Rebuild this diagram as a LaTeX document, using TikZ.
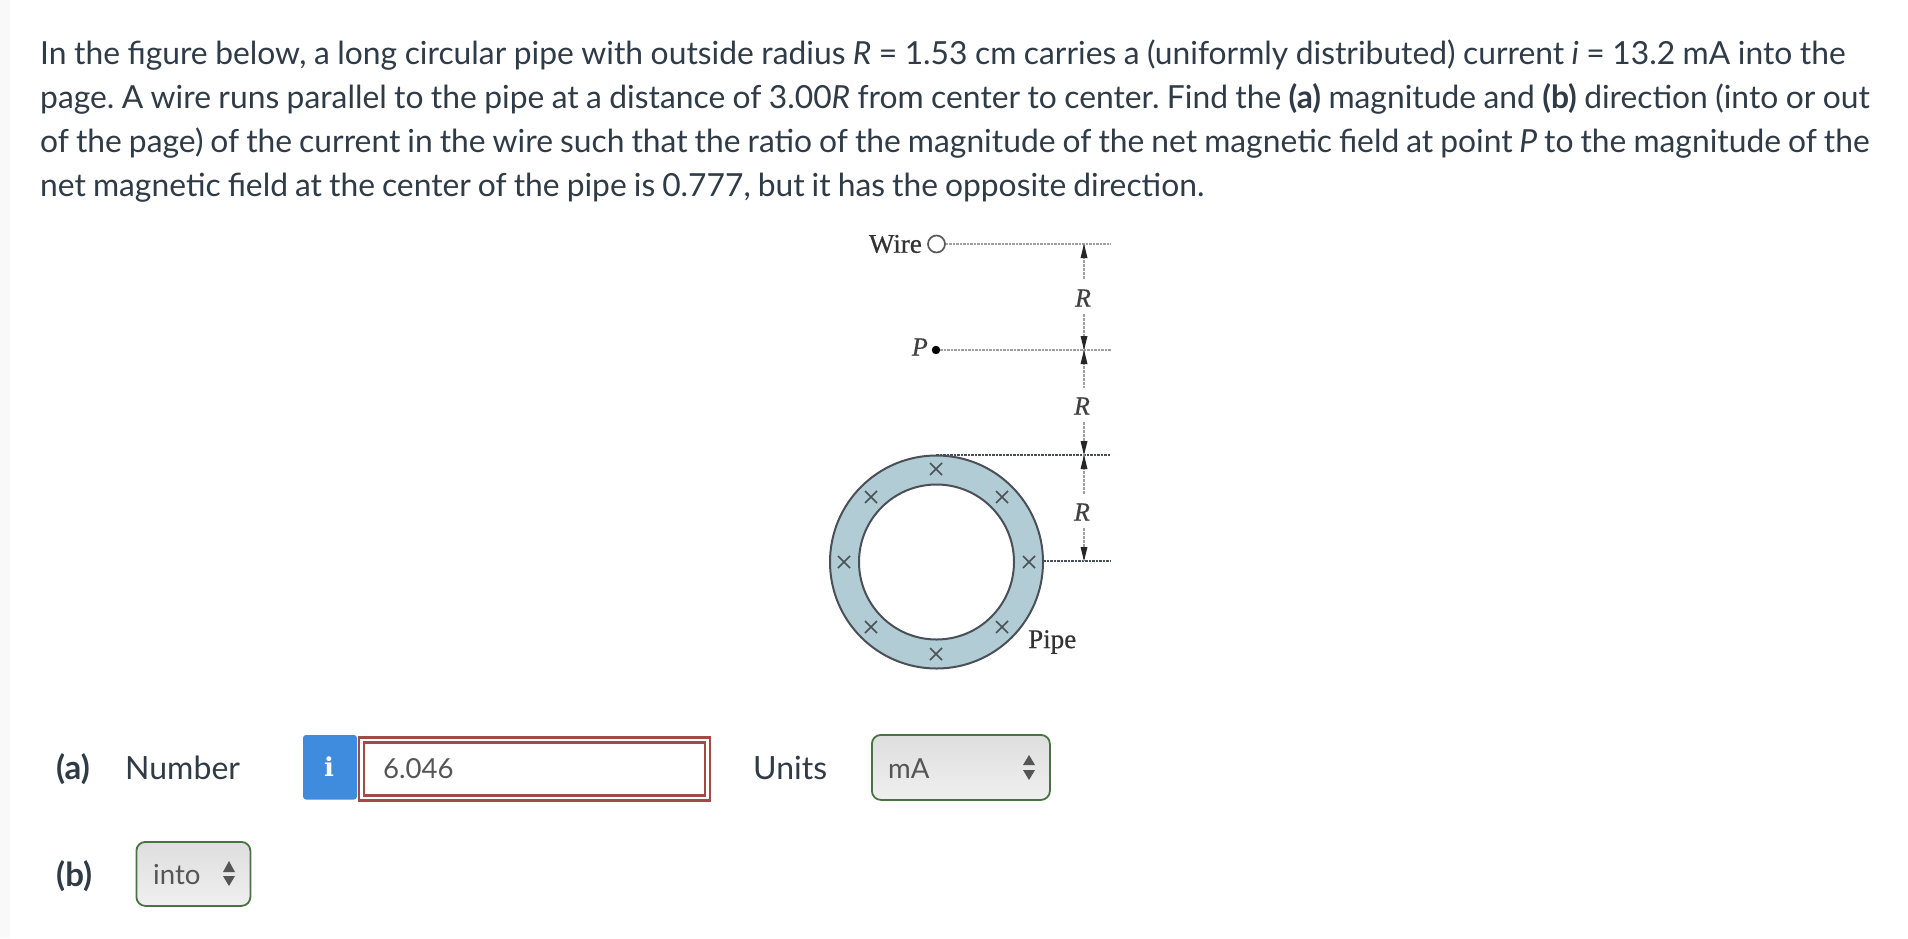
\documentclass[tikz,border=0pt]{standalone}
\usepackage{fontspec}
\setmainfont{Lato}
\newfontfamily\figfont[RawFeature={embolden=0.5}]{Liberation Serif}
\newfontfamily\figitfont[RawFeature={embolden=0.4}]{Liberation Serif Italic}
\newfontfamily\iconfont{DejaVu Serif Bold}
\definecolor{pagetext}{HTML}{2F3B47}
\definecolor{fieldtext}{HTML}{555555}
\definecolor{pipefill}{HTML}{B2CCD6}
\definecolor{pipeline}{HTML}{4A5056}
\definecolor{dimline}{HTML}{A0A0A0}
\definecolor{infoblue}{HTML}{3F8BDD}
\definecolor{wrongred}{HTML}{A04B48}
\definecolor{rightgreen}{HTML}{4A7343}
\tikzset{
  para/.style={anchor=base west,inner sep=0pt,text=pagetext,font=\fontsize{31.8}{36}\selectfont\frenchspacing},
  formlabel/.style={anchor=base west,inner sep=0pt,text=pagetext,font=\fontsize{32}{38}\selectfont},
  fieldlabel/.style={anchor=base west,inner sep=0pt,text=fieldtext,font=\fontsize{27.6}{32}\selectfont},
  figlabel/.style={inner sep=0pt,text=black!80,font=\figfont\fontsize{27}{32}\selectfont},
  dimlabel/.style={inner sep=0pt,text=black!75,font=\figitfont\fontsize{26}{32}\selectfont},
  dimleader/.style={dimline,line width=1.8pt,dash pattern=on 2.5pt off 1pt},
  dimarrow/.style={dimline,line width=1.3pt,dash pattern=on 2.5pt off 1.5pt},
  selectbox/.style={draw=rightgreen,line width=1.8pt,rounded corners=9pt,top color=black!13,bottom color=black!6},
  updown/.style={fill=fieldtext,draw=none},
  crossmark/.style={pipeline,line width=1.7pt},
}
\newcommand{\dimtip}[2]{\fill[black!85] (#1,#2) -- ++(-3.5,14) -- ++(7,0) -- cycle;}
\newcommand{\dimtop}[2]{\fill[black!85] (#1,#2) -- ++(-3.5,-14) -- ++(7,0) -- cycle;}
\begin{document}
\begin{tikzpicture}[x=1pt,y=-1pt]
\useasboundingbox (0,0) rectangle (1908,938);
\fill[white] (0,0) rectangle (1908,938);
\fill[black!2.5] (0,0) rectangle (10,938);
% question text
\node[para] (line1) at (40,64) {\spaceskip=7.5pt In the figure below, a long circular pipe with outside radius \textit{R} = 1.53 cm carries a (uniformly distributed) current \textit{i} = 13.2 mA into the};
\node[para] (line2) at (40,108) {\spaceskip=7.4pt page. A wire runs parallel to the pipe at a distance of 3.00\textit{R} from center to center. Find the \textbf{(a)} magnitude and \textbf{(b)} direction (into or out};
\node[para] (line3) at (40,152) {\spaceskip=7pt of the page) of the current in the wire such that the ratio of the magnitude of the net magnetic field at point \textit{P} to the magnitude of the};
\node[para] (line4) at (40,196) {\spaceskip=7pt net magnetic field at the center of the pipe is 0.777, but it has the opposite direction.};
% pipe
\fill[pipefill,draw=pipeline,line width=2pt,even odd rule] (936.5,562) circle (106.5) (936.5,562) circle (77.5);
\foreach \xc/\yc in {936/469,871/497,1002/497,844/562,1029/562,871/627,1002/627,936/654}
  \draw[crossmark] (\xc-6,\yc-6) -- (\xc+6,\yc+6) (\xc-6,\yc+6) -- (\xc+6,\yc-6);
% wire and point
\node[circle,draw=black!65,line width=1.7pt,fill=white,minimum size=17pt,inner sep=0pt] (wire) at (936.5,244) {};
\node[circle,fill=black,minimum size=8.5pt,inner sep=0pt] (pointP) at (936,350) {};
\node[figlabel,anchor=east] (wirelabel) at (922,244) {Wire};
\node[dimlabel,anchor=east] (plabel) at (928,347) {P};
\node[figlabel,anchor=west] (pipelabel) at (1028,642) {Pipe};
% leaders
\coordinate (wireend) at (1111,244);
\coordinate (pend) at (1111,350);
\coordinate (topstart) at (936,455);
\coordinate (topend) at (1111,455);
\coordinate (sidestart) at (1043,561);
\coordinate (sideend) at (1111,561);
\draw[dimleader] (wire) -- (wireend);
\draw[dimleader] (pointP) -- (pend);
\draw[dimleader,draw=pipeline] (topstart) -- (topend);
\draw[dimleader,draw=pipeline] (sidestart) -- (sideend);
% dimensions
\node[dimlabel] (r1) at (1083,298) {R};
\node[dimlabel] (r2) at (1082,406) {R};
\node[dimlabel] (r3) at (1082,512) {R};
\coordinate (d1a) at (1084,244);
\coordinate (d1b) at (1084,350);
\coordinate (d2b) at (1084,455);
\coordinate (d3b) at (1084,561);
\foreach \la/\lb/\rc in {d1a/d1b/298,d1b/d2b/406,d2b/d3b/512}{
  \draw[dimarrow] (\la) -- (1084,\rc-18);
  \draw[dimarrow] (1084,\rc+16) -- (\lb);
}
\dimtip{1084}{244}
\dimtop{1084}{350}
\dimtip{1084}{350}
\dimtop{1084}{455}
\dimtip{1084}{455}
\dimtop{1084}{561}
% form
\node[formlabel,font=\bfseries\fontsize{33}{38}\selectfont] (alabel) at (56,779) {(a)};
\node[formlabel] (number) at (125,779) {Number};
\fill[infoblue,rounded corners=3pt] (303,735) rectangle (357,799.5);
\node[text=white,inner sep=0pt,font=\iconfont\fontsize{26}{30}\selectfont] (info) at (329,767) {i};
\node[draw=wrongred,line width=2.6pt,fill=white,minimum width=351pt,minimum height=63pt,inner sep=0pt,anchor=north west] (outerbox) at (357.5,736) {};
\node[draw=wrongred,line width=2.6pt,minimum width=341pt,minimum height=53pt,inner sep=0pt,anchor=north west] (innerbox) at (362.5,741) {};
\node[fieldlabel] (value) at (383,778) {6.046};
\node[formlabel] (units) at (753,779) {Units};
\node[selectbox,minimum width=178pt,minimum height=65pt,inner sep=0pt,anchor=north west] (unitbox) at (871,734) {};
\node[fieldlabel] (unitval) at (888,778) {mA};
\fill[updown] (1029,755) -- (1035,765) -- (1023,765) -- cycle;
\fill[updown] (1029,780) -- (1035,770) -- (1023,770) -- cycle;
\node[formlabel,font=\bfseries\fontsize{33}{38}\selectfont] (blabel) at (56,886) {(b)};
\node[selectbox,minimum width=114pt,minimum height=64pt,inner sep=0pt,anchor=north west] (dirbox) at (135.5,841) {};
\node[fieldlabel] (dirval) at (153,884) {into};
\fill[updown] (229,861) -- (235,872) -- (223,872) -- cycle;
\fill[updown] (229,886) -- (235,876) -- (223,876) -- cycle;
\end{tikzpicture}
\end{document}
